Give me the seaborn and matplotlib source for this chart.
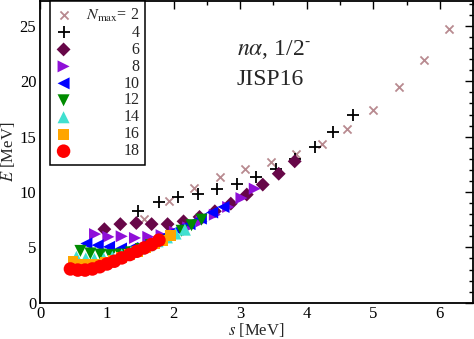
import matplotlib
matplotlib.use("Agg")
import matplotlib.pyplot as plt
import seaborn as sns
import pandas as pd
from matplotlib.ticker import MultipleLocator

# ---- data ----
s_n2 = [1.55, 1.93, 2.31, 2.70, 3.08, 3.46, 3.84, 4.23, 4.61, 5.00, 5.38, 5.77, 6.14]
e_n2 = [7.6, 9.16, 10.4, 11.4, 12.1, 12.7, 13.4, 14.3, 15.7, 17.4, 19.5, 21.95, 24.7]

s_n4 = [1.47, 1.78, 2.07, 2.36, 2.65, 2.95, 3.24, 3.54, 3.83, 4.12, 4.40, 4.70]
e_n4 = [8.29, 9.1, 9.52, 9.86, 10.24, 10.75, 11.35, 12.1, 13.0, 14.1, 15.4, 16.97]

s_n6 = [0.96, 1.20, 1.44, 1.67, 1.91, 2.15, 2.39, 2.62, 2.86, 3.10, 3.34, 3.58, 3.82]
e_n6 = [6.64, 7.1, 7.2, 7.1, 7.1, 7.35, 7.75, 8.26, 8.95, 9.77, 10.67, 11.65, 12.77]

s_n8 = [0.82, 1.02, 1.22, 1.42, 1.62, 1.82, 2.02, 2.22, 2.42, 2.62, 2.82, 3.02, 3.22]
e_n8 = [6.2, 5.95, 6.0, 5.85, 5.95, 6.1, 6.4, 6.8, 7.35, 7.95, 8.65, 9.45, 10.3]

s_n10 = [0.69, 0.86, 1.03, 1.21, 1.38, 1.55, 1.72, 1.89, 2.06, 2.24, 2.41, 2.58, 2.75]
e_n10 = [5.35, 5.2, 5.05, 4.9, 4.95, 5.25, 5.65, 6.1, 6.6, 7.1, 7.6, 8.15, 8.65]

s_n12 = [0.60, 0.75, 0.90, 1.05, 1.20, 1.36, 1.51, 1.66, 1.81, 1.96, 2.12, 2.27, 2.42]
e_n12 = [4.68, 4.45, 4.35, 4.3, 4.35, 4.55, 4.85, 5.2, 5.6, 6.0, 6.5, 7.0, 7.5]

s_n14 = [0.54, 0.68, 0.81, 0.95, 1.08, 1.22, 1.36, 1.49, 1.63, 1.76, 1.90, 2.03, 2.17]
e_n14 = [4.14, 4.0, 3.95, 4.0, 4.15, 4.35, 4.6, 4.9, 5.2, 5.55, 5.9, 6.25, 6.6]

s_n16 = [0.49, 0.61, 0.73, 0.85, 0.98, 1.10, 1.22, 1.34, 1.46, 1.58, 1.71, 1.83, 1.95]
e_n16 = [3.7, 3.5, 3.45, 3.5, 3.65, 3.85, 4.1, 4.35, 4.65, 4.95, 5.3, 5.65, 6.05]

s_n18 = [0.45, 0.56, 0.67, 0.78, 0.89, 1.00, 1.11, 1.22, 1.34, 1.45, 1.56, 1.67, 1.78]
e_n18 = [3.05, 2.95, 2.95, 3.05, 3.25, 3.5, 3.75, 4.05, 4.35, 4.65, 4.95, 5.25, 5.65]

nmax_labels = [r"$N_{\mathrm{max}}$= 2", "4", "6", "8", "10", "12", "14", "16", "18"]
series_s = [s_n2, s_n4, s_n6, s_n8, s_n10, s_n12, s_n14, s_n16, s_n18]
series_e = [e_n2, e_n4, e_n6, e_n8, e_n10, e_n12, e_n14, e_n16, e_n18]

# ---- styles ----
colors = ["#b88a90", "#000000", "#670748", "#8f10d8", "#0000ff",
          "#008b00", "#40e0d0", "#ffa500", "#ff0000"]
markers = ["x", "+", "D", ">", "<", "v", "^", "s", "o"]
sizes = [34, 70, 50, 75, 75, 75, 75, 60, 95]

sns.set_theme(style="white")
plt.rcParams["font.family"] = ["Liberation Serif", "DejaVu Serif"]
plt.rcParams["mathtext.fontset"] = "stix"

fig = plt.figure(figsize=(4.74, 3.39), dpi=100)
ax = fig.add_axes([0.0854, 0.107, 0.9126, 0.890])

for s, e, lab, c, m, sz in zip(series_s, series_e, nmax_labels, colors, markers, sizes):
    df = pd.DataFrame({"s": s, "E": e})
    kw = {}
    if m in ("x", "+"):
        kw["linewidth"] = 1.3
    else:
        kw["edgecolor"] = "none"
    sns.scatterplot(data=df, x="s", y="E", marker=m, color=c, s=sz,
                    label=lab, ax=ax, zorder=3, **kw)

ax.set_xlim(0, 6.5)
ax.set_ylim(0, 27.25)
ax.xaxis.set_major_locator(MultipleLocator(1))
ax.xaxis.set_minor_locator(MultipleLocator(0.5))
ax.yaxis.set_major_locator(MultipleLocator(5))
ax.yaxis.set_minor_locator(MultipleLocator(1))
ax.tick_params(which="both", direction="in", top=True, right=True,
               colors="black", labelsize=12, width=1.0)
ax.tick_params(which="major", length=6)
ax.tick_params(axis="x", which="major", pad=2)
ax.tick_params(axis="y", which="major", pad=3)
ax.tick_params(which="minor", length=3)
for sp in ax.spines.values():
    sp.set_color("black")
    sp.set_linewidth(1.3)

ax.set_xlabel("$s$ [MeV]", fontsize=12, labelpad=-0.5)
ax.set_ylabel("$E$ [MeV]", fontsize=12, labelpad=2)

ax.text(2.95, 22.4, r"$n\alpha$, 1/2$^{\text{-}}$", fontsize=17)
ax.text(2.95, 19.7, "JISP16", fontsize=17)

leg = ax.legend(loc="upper left", bbox_to_anchor=(0.022, 1.0), borderaxespad=0,
                fontsize=11.5, frameon=True, fancybox=False, edgecolor="black",
                framealpha=1, handlelength=1.0, handletextpad=0.5,
                labelspacing=0.06, borderpad=0.35, scatterpoints=1)
leg.get_frame().set_linewidth(1.1)
# right-align the labels inside each legend row
for col in leg._legend_handle_box.get_children():
    for row in col.get_children():
        row.mode = "expand"
        row.width = 84

fig.savefig("out.png", dpi=100)
